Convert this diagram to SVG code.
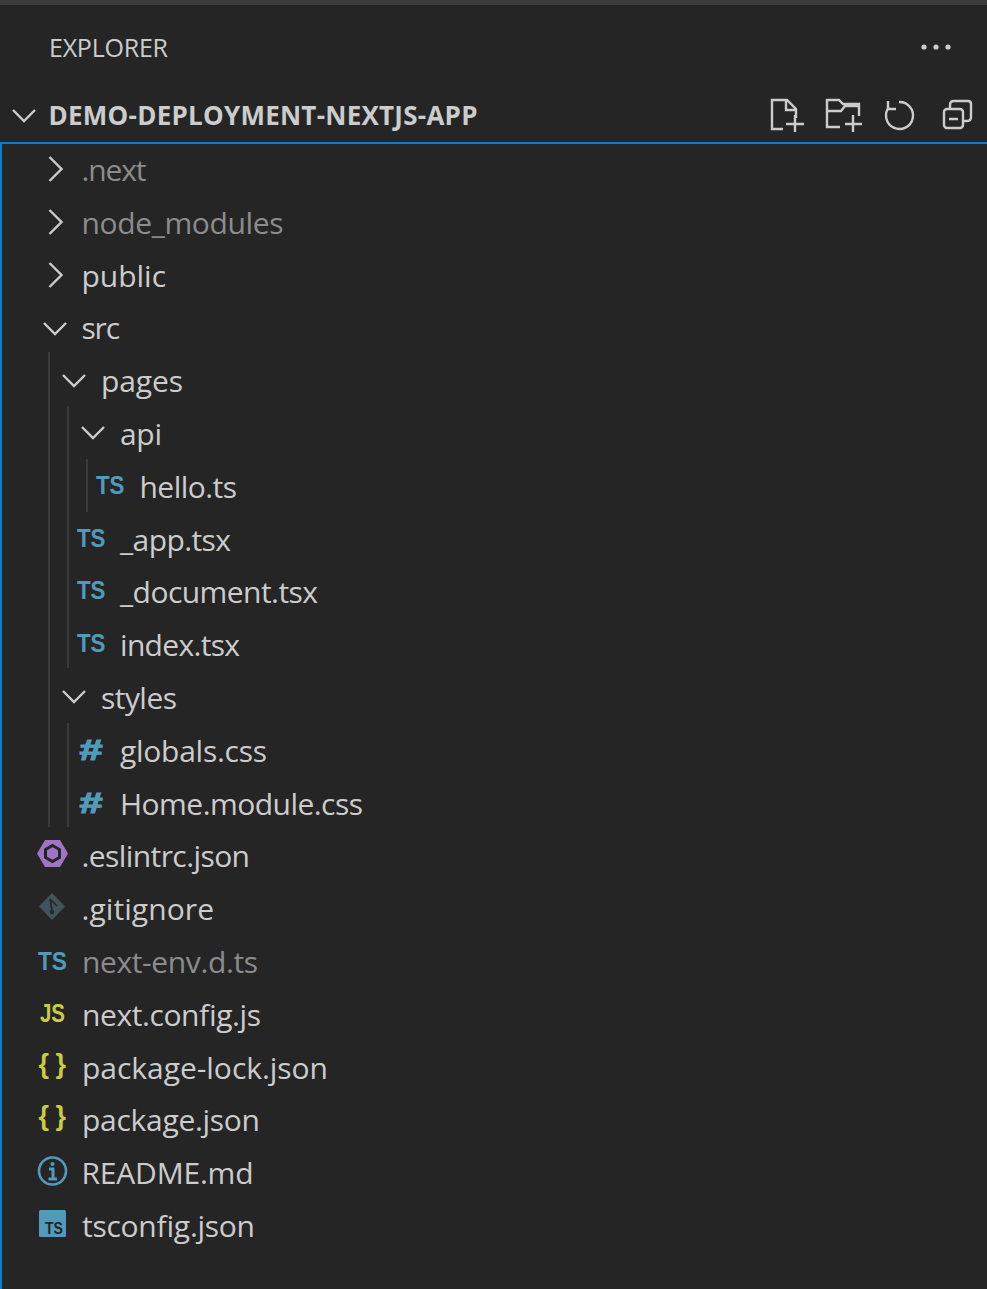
<svg xmlns="http://www.w3.org/2000/svg" width="987" height="1289" viewBox="0 0 987 1289">
<style>
text{font-family:"Open Sans","Noto Sans","Liberation Sans",sans-serif;font-size:30px;fill:#cccccc}
.dim{fill:#8c8c8c}
.chev,.ic{fill:none;stroke:#cccccc;stroke-width:2.4}
.guide{fill:#3a3a3a}
.ts{font-family:"Liberation Sans",sans-serif;font-weight:700;font-size:26px;fill:#519aba}
.js{font-family:"Liberation Sans",sans-serif;font-weight:700;font-size:25px;fill:#cbcb41}
.br{font-family:"Liberation Sans",sans-serif;font-weight:700;font-size:27px;fill:#cbcb41}
.hash{font-family:"Liberation Sans",sans-serif;font-weight:700;font-size:29px;fill:#519aba;font-style:italic;stroke:#519aba;stroke-width:1.2}
</style>
<rect width="987" height="1289" fill="#252526"/>
<rect width="987" height="5" fill="#3c3c3c"/>
<rect y="142" width="987" height="2" fill="#0a7fd0"/>
<rect y="142" width="2" height="1147" fill="#0a7fd0"/>
<g id="guides">
<rect class="guide" x="48" y="352" width="2" height="475"/>
<rect class="guide" x="67" y="406" width="2" height="262"/>
<rect class="guide" x="86" y="459" width="2" height="53"/>
<rect class="guide" x="67" y="723" width="2" height="104"/>
</g>
<g id="header">
<text x="49" y="57" style="font-size:25px" textLength="119">EXPLORER</text>
<g fill="#cccccc"><circle cx="924" cy="47" r="2.6"/><circle cx="936" cy="47" r="2.6"/><circle cx="948" cy="47" r="2.6"/></g>
</g>
<g id="root">
<path class="chev" d="M13 110l11 11 11-11"/>
<text x="48.500" y="125" style="font-size:26px;font-weight:700" textLength="429">DEMO-DEPLOYMENT-NEXTJS-APP</text>
</g>
<g id="toolbar">
<path class="ic" d="M783 129H772V100H787L796 109V118M786 100V110H796M786 124H804M795 115V132"/>
<path class="ic" d="M840 127H827V100H839L843 104H859V116M827 111H841L845 106H859M845 124H862M853 115V132"/>
<path class="ic" d="M899 102A13.500 13.500 0 1 1 889 107M888 101V109H896"/>
<rect class="ic" x="944" y="109" width="19" height="19" rx="3"/>
<path class="ic" d="M950 109V105Q950 101 954 101H968Q971 101 971 104V117Q971 121 967 121H963M949 119H958"/>
</g>
<g id="next"><path class="chev" d="M49.500 157l12 12-12 12"/><text class="dim" x="81.500" y="181" textLength="65">.next</text></g>
<g id="node_modules"><path class="chev" d="M49.500 210l12 12-12 12"/><text class="dim" x="81.500" y="234" textLength="202">node_modules</text></g>
<g id="public"><path class="chev" d="M49.500 263l12 12-12 12"/><text x="81.500" y="287" textLength="84.500">public</text></g>
<g id="src"><path class="chev" d="M44 323l11 11 11-11"/><text x="81.500" y="339" textLength="38.500">src</text></g>
<g id="pages"><path class="chev" d="M63 375l11 11 11-11"/><text x="101" y="392" textLength="82">pages</text></g>
<g id="api"><path class="chev" d="M82 427l11 11 11-11"/><text x="120" y="445" textLength="42">api</text></g>
<g id="hello"><text class="ts" x="96" y="493.500" textLength="28.500" lengthAdjust="spacingAndGlyphs">TS</text><text x="139.500" y="498" textLength="97.500">hello.ts</text></g>
<g id="app"><text class="ts" x="77" y="546.500" textLength="28.500" lengthAdjust="spacingAndGlyphs">TS</text><text x="120" y="551" textLength="111">_app.tsx</text></g>
<g id="document"><text class="ts" x="77" y="599" textLength="28.500" lengthAdjust="spacingAndGlyphs">TS</text><text x="120" y="603" textLength="198">_document.tsx</text></g>
<g id="index"><text class="ts" x="77" y="652" textLength="28.500" lengthAdjust="spacingAndGlyphs">TS</text><text x="120" y="656" textLength="120">index.tsx</text></g>
<g id="styles"><path class="chev" d="M63 691l11 11 11-11"/><text x="101" y="709" textLength="76">styles</text></g>
<g id="globals"><text class="hash" x="79" y="760" textLength="23" lengthAdjust="spacingAndGlyphs">#</text><text x="120" y="762" textLength="147">globals.css</text></g>
<g id="home"><text class="hash" x="79" y="813" textLength="23" lengthAdjust="spacingAndGlyphs">#</text><text x="120" y="815" textLength="243">Home.module.css</text></g>
<g id="eslint">
<path fill="#a074c4" d="M45 840H60L68 853.500 60 867H45L37 853.500Z"/>
<path fill="none" stroke="#252526" stroke-width="3" d="M52.500 845.500L59.500 849.500V857.500L52.500 861.500 45.500 857.500V849.500Z"/>
<text x="81.500" y="867" textLength="168.500">.eslintrc.json</text>
</g>
<g id="gitignore">
<path fill="#41535b" d="M52 893L65 906.500 52 920 39 906.500Z"/>
<path fill="none" stroke="#252526" stroke-width="1.600" d="M50 899L52 911M51 900L57 906"/>
<circle cx="52" cy="912" r="2.200" fill="#252526"/>
<text x="81.500" y="920" textLength="132.500">.gitignore</text>
</g>
<g id="nextenv"><text class="ts" x="38" y="969.500" textLength="29" lengthAdjust="spacingAndGlyphs">TS</text><text class="dim" x="82" y="973" textLength="176">next-env.d.ts</text></g>
<g id="nextconfig"><text class="js" x="40" y="1022" textLength="25" lengthAdjust="spacingAndGlyphs">JS</text><text x="82" y="1026" textLength="179">next.config.js</text></g>
<g id="packagelock"><text class="br" x="38.500" y="1072.500">{</text><text class="br" x="55.500" y="1072.500">}</text><text x="82" y="1079" textLength="246">package-lock.json</text></g>
<g id="package"><text class="br" x="38.500" y="1124.500">{</text><text class="br" x="55.500" y="1124.500">}</text><text x="82" y="1131" textLength="178">package.json</text></g>
<g id="readme">
<circle cx="52.500" cy="1171" r="13.500" fill="none" stroke="#519aba" stroke-width="2.600"/>
<circle cx="52.500" cy="1164" r="2" fill="#519aba"/>
<path fill="none" stroke="#519aba" stroke-width="3" d="M49 1169H53V1179M48.500 1179H57"/>
<text x="81.500" y="1184" textLength="172">README.md</text>
</g>
<g id="tsconfig">
<rect x="39" y="1210" width="27" height="27" rx="1.500" fill="#519aba"/>
<text x="45" y="1234" textLength="18" lengthAdjust="spacingAndGlyphs" style="font-family:'Liberation Sans',sans-serif;font-weight:700;font-size:16px;fill:#252526">TS</text>
<text x="82" y="1237" textLength="173">tsconfig.json</text>
</g>
</svg>
